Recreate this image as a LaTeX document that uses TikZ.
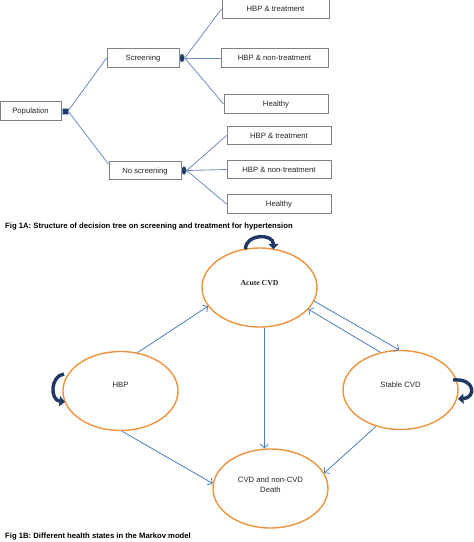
\documentclass[tikz,border=0pt]{standalone}
\usepackage{fontspec}
\setmainfont{Liberation Sans}
\newfontfamily\timesfont{Liberation Serif}
\usetikzlibrary{shapes.geometric,arrows.meta,calc}
\definecolor{boxgray}{RGB}{128,128,128}
\definecolor{treeline}{RGB}{110,140,190}
\definecolor{arrowblue}{RGB}{74,126,187}
\definecolor{stateorange}{RGB}{240,145,60}
\definecolor{navyblue}{RGB}{31,56,100}
\begin{document}
\begin{tikzpicture}[x=1pt,y=-1pt,
  every node/.style={font=\fontsize{7.7}{9.6}\selectfont, text=black!85},
  treebox/.style={draw=boxgray, line width=0.9pt, minimum height=18.5pt, inner sep=0pt, fill=white, text depth=0pt},
  decnode/.style={draw=treeline!60, fill=navyblue, minimum size=5.5pt, inner sep=0pt, line width=0.5pt},
  chancenode/.style={ellipse, draw=treeline!60, fill=navyblue, minimum width=5pt, minimum height=8.5pt, inner sep=0pt, line width=0.5pt},
  treeedge/.style={draw=treeline, line width=0.8pt},
  healthstate/.style={ellipse, draw=stateorange, line width=1.4pt, minimum width=115pt, minimum height=79pt, inner sep=0pt, align=center},
  trans/.style={draw=arrowblue, line width=0.8pt, -{Straight Barb[length=3.5pt,width=8pt]}},
  selfloop/.style={draw=navyblue, line width=3.4pt, -{Triangle[length=5.5pt,width=10pt]}},
  figcaption/.style={anchor=west, font=\fontsize{7.7}{9.2}\selectfont\bfseries, inner sep=0pt, text=black}
]
\useasboundingbox (0,0) rectangle (474,542);

% ---------- Decision tree ----------
\node[treebox, minimum width=61pt] (pop) at (30.5,111) {Population};
\node[decnode] (dec) at (65,111) {};
\node[treebox, minimum width=72pt] (scr) at (143,58) {Screening};
\node[chancenode] (c1) at (182,58) {};
\node[treebox, minimum width=72pt] (nscr) at (145,170.5) {No screening};
\node[chancenode] (c2) at (184,170.5) {};

\node[treebox, minimum width=107pt] (s1) at (275.5,9) {HBP \& treatment};
\node[treebox, minimum width=107pt] (s2) at (274.5,58) {HBP \& non-treatment};
\node[treebox, minimum width=104pt] (s3) at (276,104) {Healthy};
\node[treebox, minimum width=104pt] (n1) at (279,135.5) {HBP \& treatment};
\node[treebox, minimum width=104pt] (n2) at (279,169.5) {HBP \& non-treatment};
\node[treebox, minimum width=104pt] (n3) at (279,204) {Healthy};

\draw[treeedge] (dec.east) -- (scr.west);
\draw[treeedge] (dec.east) -- (nscr.170);
\draw[treeedge] (c1.east) -- (s1.west);
\draw[treeedge] (c1.east) -- (s2.west);
\draw[treeedge] (c1.east) -- (s3.west);
\draw[treeedge] (c2.east) -- (n1.west);
\draw[treeedge] (c2.east) -- (n2.west);
\draw[treeedge] (c2.east) -- (n3.west);

\node[figcaption] (capA) at (5,227) {Fig 1A: Structure of decision tree on screening and treatment for hypertension};

% ---------- Markov model ----------
\node[healthstate, text depth=9pt] (acute) at (259.5,287.5) {\timesfont\bfseries Acute CVD};
\node[healthstate, text depth=12pt] (hbp) at (120.5,391) {HBP};
\node[healthstate, text depth=10pt] (stable) at (400.5,390) {Stable CVD};
\node[healthstate, text depth=8pt] (death) at (270.5,488.5) {CVD and non-CVD\\Death};

\draw[trans] (hbp.66) -- (acute.200);
\draw[trans] (acute.346) -- (stable.92);
\draw[trans] (stable.118) -- (acute.336);
\draw[trans] (acute.277) -- (acute.277 |- death.north);
\draw[trans] (hbp.272) -- (death.175);
\draw[trans] (stable.236) -- (death.16);

\draw[selfloop] ($(acute.north)+(-14,2)$) .. controls +(0,-16) and +(0,-16) .. ($(acute.north)+(14,2)$);
\draw[selfloop] ($(hbp.center)+(-56.5,-17)$) .. controls +(-14,2) and +(-15,-2) .. ($(hbp.center)+(-55.5,11)$);
\draw[selfloop] ($(stable.center)+(52.5,-10)$) .. controls +(23,-2) and +(18,-1) .. ($(stable.center)+(57.5,9)$);

\node[figcaption] (capB) at (5,537) {Fig 1B: Different health states in the Markov model};
\end{tikzpicture}
\end{document}
